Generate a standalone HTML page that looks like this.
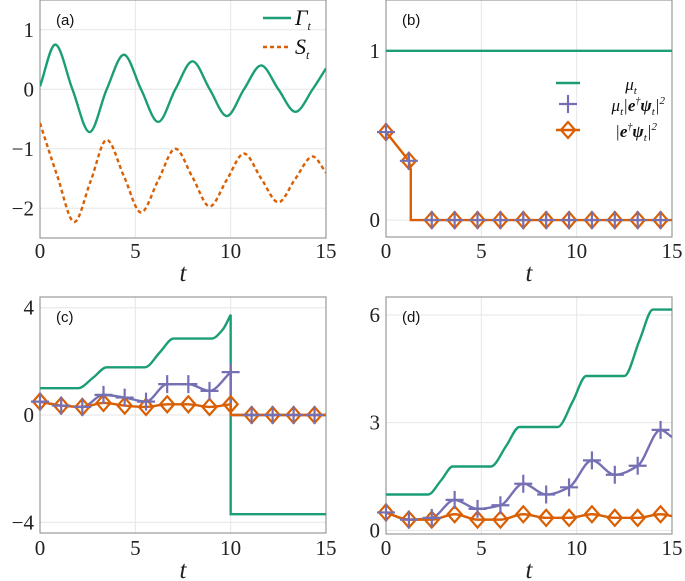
<!DOCTYPE html>
<html><head><meta charset="utf-8"><style>
body{margin:0;background:#fff;}
svg{display:block;font-family:"Liberation Serif",serif;}
.tk{font-size:21px;fill:#222;}
.pl{font-family:"Liberation Sans",sans-serif;font-size:15px;fill:#111;}
.ax{font-size:25px;font-style:italic;fill:#222;}
</style></head><body>
<svg id="fig" width="685" height="581" viewBox="0 0 685 581"></svg>
<script>
// ---- data ----
const xTicks=[0,5,10,15];
const aYTicks=[1,0,-1,-2];
const aGammaT=[0,0.8,1.7,2.6,3.5,4.4,5.3,6.2,7.1,8.0,8.9,9.8,10.7,11.6,12.5,13.4,14.3,15];
const aGammaV=[0.05,0.75,0,-0.72,0,0.58,0,-0.55,0,0.47,0,-0.45,0,0.4,0,-0.38,0,0.35];
const aST=[0,0.9,1.8,2.65,3.5,4.4,5.3,6.2,7.1,8.0,8.9,9.8,10.7,11.6,12.5,13.4,14.3,15];
const aSV=[-0.57,-1.45,-2.23,-1.55,-0.85,-1.46,-2.07,-1.53,-1.0,-1.48,-1.97,-1.52,-1.08,-1.5,-1.9,-1.5,-1.13,-1.4];
const bYTicks=[1,0];
const bMuT=[0,15];const bMuV=[1,1];
const bMarkT=[0,1.2,2.4,3.6,4.8,6.0,7.2,8.4,9.6,10.8,12.0,13.2,14.4];
const bMarkV=[0.52,0.35,0,0,0,0,0,0,0,0,0,0,0];
const bLineT=[0,1.2,1.3,1.3,15];const bLineV=[0.52,0.35,0.3,0,0];
const cYTicks=[4,0,-4];
const cGammaT=[0,2.0,2.8,3.5,5.5,6.3,7.0,9.0,9.6,10.0,10.0,15];
const cGammaV=[1.0,1.0,1.4,1.78,1.78,2.35,2.85,2.85,3.2,3.74,-3.7,-3.7];
const cMarkT=[0,1.11,2.22,3.33,4.44,5.56,6.67,7.78,8.89,10.0,11.1,12.2,13.3,14.4];
const cPurpV=[0.5,0.35,0.3,0.75,0.65,0.5,1.15,1.15,0.9,1.6,0,0,0,0];
const cOranV=[0.5,0.35,0.3,0.45,0.35,0.3,0.4,0.4,0.3,0.4,0,0,0,0];
const dYTicks=[6,3,0];
const dGammaT=[0,2.2,2.9,3.5,5.5,6.3,7.0,9.0,9.8,10.5,12.5,13.3,14.0,15];
const dGammaV=[1.0,1.0,1.4,1.78,1.78,2.35,2.88,2.88,3.6,4.3,4.3,5.3,6.15,6.15];
const dMarkT=[0,1.2,2.4,3.6,4.8,6.0,7.2,8.4,9.6,10.8,12.0,13.2,14.4,15];
const dPurpV=[0.5,0.3,0.35,0.85,0.6,0.7,1.3,1.0,1.2,1.95,1.55,1.8,2.8,2.6];
const dOranV=[0.5,0.3,0.3,0.45,0.3,0.3,0.45,0.35,0.35,0.45,0.35,0.35,0.45,0.4];

const G='#1b9e77',O='#d95f02',P='#7570b3';
const NS='http://www.w3.org/2000/svg';
const svg=document.getElementById('fig');
function mk(tag,attrs,parent){const e=document.createElementNS(NS,tag);for(const k in attrs)e.setAttribute(k,attrs[k]);(parent||svg).appendChild(e);return e;}
function panel(name,x0,x1,yTop,yBot,vTop,vBot,yTicks,label,xlabY,axY){
  const g=mk('g',{});
  
  
  const sx=t=>x0+(t/15)*(x1-x0);
  const sy=v=>yTop+(vTop-v)/(vTop-vBot)*(yBot-yTop);
  xTicks.forEach(t=>{
    const l=mk('line',{x1:sx(t),x2:sx(t),y1:yTop,y2:yBot,stroke:'#e6e6e6','stroke-width':1},g);
    
    const tx=mk('text',{x:sx(t),y:xlabY,'text-anchor':'middle',class:'tk'},g);tx.textContent=t;
    
  });
  yTicks.forEach(v=>{
    const l=mk('line',{x1:x0,x2:x1,y1:sy(v),y2:sy(v),stroke:'#e6e6e6','stroke-width':1},g);
    
    const tx=mk('text',{x:x0-6,y:sy(v)+7,'text-anchor':'end',class:'tk'},g);tx.textContent=(v<0?'−'+(-v):v);
    
  });
  const f=mk('rect',{x:x0,y:yTop,width:x1-x0,height:yBot-yTop,fill:'none',stroke:'#999','stroke-width':1.2},g);
  
  const pl=mk('text',{x:x0+16,y:yTop+25,class:'pl'},g);pl.textContent=label;
  
  const al=mk('text',{x:(x0+x1)/2,y:axY,'text-anchor':'middle',class:'ax'},g);al.textContent='t';
  
  const clip='c'+name;const cp=mk('clipPath',{id:clip},g);mk('rect',{x:x0,y:yTop,width:x1-x0,height:yBot-yTop},cp);
  const inner=mk('g',{'clip-path':'url(#'+clip+')'},g);
  return {g,inner,sx,sy};
}
// monotone cubic (Fritsch-Carlson) on each run with distinct x; vertical jumps drawn as lines
function monoSeg(p){
  const n=p.length;if(n<2)return '';
  let d='';
  if(n===2)return 'L'+p[1][0]+','+p[1][1];
  const dx=[],m=[];
  for(let i=0;i<n-1;i++){dx[i]=p[i+1][0]-p[i][0];m[i]=(p[i+1][1]-p[i][1])/dx[i];}
  const tg=[m[0]];
  for(let i=1;i<n-1;i++){
    if(m[i-1]*m[i]<=0)tg[i]=0;
    else{const w1=2*dx[i]+dx[i-1],w2=dx[i]+2*dx[i-1];tg[i]=(w1+w2)/(w1/m[i-1]+w2/m[i]);}
  }
  tg[n-1]=m[n-2];
  for(let i=0;i<n-1;i++){
    const h=dx[i]/3;
    d+='C'+(p[i][0]+h)+','+(p[i][1]+tg[i]*h)+' '+(p[i+1][0]-h)+','+(p[i+1][1]-tg[i+1]*h)+' '+p[i+1][0]+','+p[i+1][1];
  }
  return d;
}
function pathD(T,V,sx,sy,smooth){
  const p=T.map((t,i)=>[sx(t),sy(V[i])]);
  let d='M'+p[0][0]+','+p[0][1];
  if(!smooth){for(let i=1;i<p.length;i++)d+='L'+p[i][0]+','+p[i][1];return d;}
  let run=[p[0]];
  for(let i=1;i<p.length;i++){
    if(p[i][0]===p[i-1][0]){d+=monoSeg(run);d+='L'+p[i][0]+','+p[i][1];run=[p[i]];}
    else run.push(p[i]);
  }
  d+=monoSeg(run);
  return d;
}
function line(P_,T,V,color,name,smooth,dash){
  const e=mk('path',{d:pathD(T,V,P_.sx,P_.sy,smooth),fill:'none',stroke:color,'stroke-width':2.4,'stroke-dasharray':dash||'none'},P_.inner);
  
}
function diamond(par,x,y){const e=mk('path',{d:`M${x-7},${y}L${x},${y-8}L${x+7},${y}L${x},${y+8}Z`,fill:'none',stroke:O,'stroke-width':2.2},par);
  }
function plus(par,x,y){const e=mk('path',{d:`M${x-9},${y}H${x+9}M${x},${y-9}V${y+9}`,stroke:P,'stroke-width':2.2},par);
  }
function markers(P_,T,V,type,n){for(let i=0;i<(n||T.length);i++){const x=P_.sx(T[i]),y=P_.sy(V[i]);type==='d'?diamond(P_.g,x,y):plus(P_.g,x,y);}}
function legText(x,y,html,anchor){const t=mk('text',{x:x,y:y,'text-anchor':anchor||'start','font-style':'italic','font-size':17,fill:'#111'});t.innerHTML=html;
  return t;}

// (a)
const A=panel('panel-a',40,326,0,238,1.5,-2.5,aYTicks,'(a)',258,281);
line(A,aGammaT,aGammaV,G,'gamma-line',true);
line(A,aST,aSV,O,'s-line',true,'4,3');
mk('line',{x1:263,x2:291,y1:18,y2:18,stroke:G,'stroke-width':2.4});
legText(295,25,'Γ<tspan font-size="12" dy="5">t</tspan>').setAttribute('font-size','22');
mk('line',{x1:263,x2:291,y1:47,y2:47,stroke:O,'stroke-width':2.4,'stroke-dasharray':'4,3'});
legText(295,54,'S<tspan font-size="12" dy="5">t</tspan>').setAttribute('font-size','22');

// (b)
const B=panel('panel-b',386,672,0,237,1.3,-0.1,bYTicks,'(b)',258,281);
line(B,bMuT,bMuV,G,'mu-line',false);
line(B,bLineT,bLineV,O,'overlap-line',false);
markers(B,bMarkT,bMarkV,'d');markers(B,bMarkT,bMarkV,'p');
mk('line',{x1:556,x2:580,y1:83,y2:83,stroke:G,'stroke-width':2.4});
legText(631,90,'μ<tspan font-size="11" dy="4">t</tspan>','middle');
plus(svg,568,104);
legText(665,111,'μ<tspan font-size="11" dy="4">t</tspan><tspan dy="-4">|</tspan><tspan font-weight="bold">e</tspan><tspan font-size="10" dy="-7">†</tspan><tspan font-weight="bold" dy="7">ψ</tspan><tspan font-size="11" dy="4">t</tspan><tspan dy="-4">|</tspan><tspan font-size="11" dy="-7">2</tspan>','end');
mk('line',{x1:556,x2:580,y1:130,y2:130,stroke:O,'stroke-width':2.4});diamond(svg,568,130);
legText(657,137,'|<tspan font-weight="bold">e</tspan><tspan font-size="10" dy="-7">†</tspan><tspan font-weight="bold" dy="7">ψ</tspan><tspan font-size="11" dy="4">t</tspan><tspan dy="-4">|</tspan><tspan font-size="11" dy="-7">2</tspan>','end');

// (c)
const C=panel('panel-c',40,326,297,533,4.4,-4.4,cYTicks,'(c)',555,578);
line(C,cGammaT,cGammaV,G,'gamma-line',true);
line(C,cMarkT.slice(0,10).concat([10,15]),cPurpV.slice(0,10).concat([0,0]),P,'purple-line',true);
line(C,cMarkT.slice(0,10).concat([10,15]),cOranV.slice(0,10).concat([0,0]),O,'orange-line',true);
markers(C,cMarkT,cOranV,'d');markers(C,cMarkT,cPurpV,'p');

// (d)
const D=panel('panel-d',386,672,297,534,6.5,-0.1,dYTicks,'(d)',555,578);
line(D,dGammaT,dGammaV,G,'gamma-line',true);
line(D,dMarkT,dPurpV,P,'purple-line',true);
line(D,dMarkT,dOranV,O,'orange-line',true);
markers(D,dMarkT,dOranV,'d',13);markers(D,dMarkT,dPurpV,'p',13);
</script>
</body></html>
